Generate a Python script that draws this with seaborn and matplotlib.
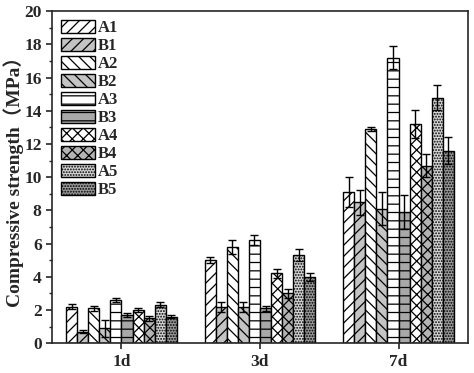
import matplotlib
matplotlib.use("Agg")
import matplotlib.pyplot as plt
import seaborn as sns
import pandas as pd
from matplotlib.ticker import MultipleLocator

ages = ["1d", "3d", "7d"]
groups = ["A1", "B1", "A2", "B2", "A3", "B3", "A4", "B4", "A5", "B5"]

# strength (MPa) per group, one value per age
strength = {
    "A1": [2.2, 5.0, 9.1],
    "B1": [0.7, 2.2, 8.5],
    "A2": [2.1, 5.8, 12.9],
    "B2": [0.9, 2.2, 8.1],
    "A3": [2.6, 6.2, 17.2],
    "B3": [1.7, 2.1, 7.9],
    "A4": [2.0, 4.2, 13.2],
    "B4": [1.5, 3.0, 10.7],
    "A5": [2.3, 5.3, 14.8],
    "B5": [1.6, 4.0, 11.6],
}
errors = {
    "A1": [0.15, 0.2, 0.9],
    "B1": [0.1, 0.3, 0.75],
    "A2": [0.15, 0.4, 0.1],
    "B2": [0.5, 0.3, 1.0],
    "A3": [0.12, 0.3, 0.7],
    "B3": [0.12, 0.15, 1.0],
    "A4": [0.12, 0.25, 0.85],
    "B4": [0.15, 0.25, 0.7],
    "A5": [0.15, 0.35, 0.75],
    "B5": [0.1, 0.25, 0.8],
}

faces = {"A1": "white", "B1": "#c4c4c4", "A2": "white", "B2": "#c4c4c4",
         "A3": "white", "B3": "#a8a8a8", "A4": "white", "B4": "#b4b4b4",
         "A5": "#d6d6d6", "B5": "#9a9a9a"}
hatches = {"A1": "///", "B1": "///", "A2": "\\\\\\", "B2": "\\\\\\",
           "A3": "--", "B3": "--", "A4": "xxx", "B4": "xxx",
           "A5": "......", "B5": "......"}

rows = []
for g in groups:
    for i, a in enumerate(ages):
        rows.append({"age": a, "group": g, "value": strength[g][i]})
df = pd.DataFrame(rows)

sns.set_style("ticks")
plt.rcParams["font.family"] = ["Liberation Serif", "Noto Sans CJK SC"]
plt.rcParams["font.weight"] = "bold"
plt.rcParams["hatch.linewidth"] = 0.9

fig, ax = plt.subplots(figsize=(4.74, 3.73), dpi=100)
sns.barplot(data=df, x="age", y="value", hue="group", order=ages,
            hue_order=groups, errorbar=None, width=0.8, ax=ax,
            edgecolor="black", linewidth=1.0, legend=False)

for g, cont in zip(groups, ax.containers):
    xs = []
    for bar in cont:
        bar.set_facecolor(faces[g])
        bar.set_hatch(hatches[g])
        bar.set_edgecolor("black")
        xs.append(bar.get_x() + bar.get_width() / 2)
    cont.set_label(g)
    ax.errorbar(xs, strength[g], yerr=errors[g], fmt="none", ecolor="black",
                elinewidth=1.0, capsize=3, capthick=1.0)

ax.set_xlim(-0.5, 2.5)
ax.set_ylim(0, 20)
ax.yaxis.set_major_locator(MultipleLocator(2))
ax.yaxis.set_minor_locator(MultipleLocator(1))
ax.set_xlabel("")
ax.set_ylabel("Compressive strength（MPa）", fontsize=14, fontweight="bold",
              labelpad=0)
ax.tick_params(axis="both", labelsize=12.5, width=1.2, length=4)
ax.tick_params(axis="y", which="minor", length=2.5, width=1)
for s in ax.spines.values():
    s.set_visible(True)
    s.set_linewidth(1.2)
for t in ax.get_xticklabels() + ax.get_yticklabels():
    t.set_fontweight("bold")

leg = ax.legend(handles=list(ax.containers), labels=groups, loc="upper left",
                frameon=False, fontsize=12,
                handlelength=2.0, handleheight=0.75, labelspacing=0.12,
                borderaxespad=0.25, handletextpad=0.2, borderpad=0.3)
for t in leg.get_texts():
    t.set_fontweight("bold")

plt.subplots_adjust(left=0.11, right=0.987, top=0.97, bottom=0.08)
fig.savefig("out.png", dpi=100)
